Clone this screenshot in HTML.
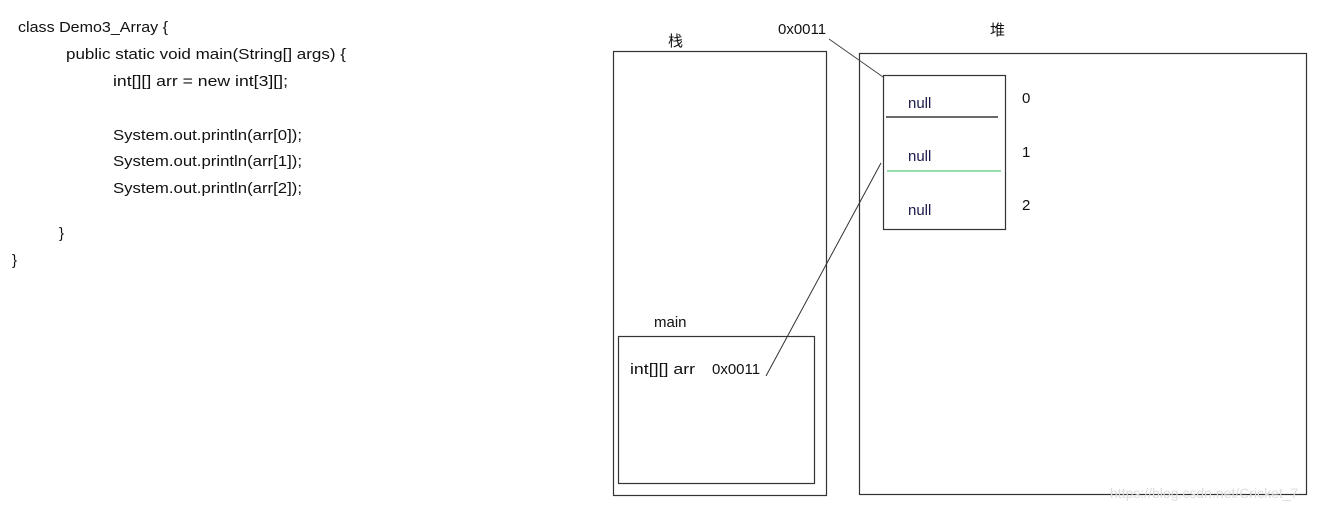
<!DOCTYPE html>
<html><head><meta charset="utf-8"><style>
html,body{margin:0;padding:0;background:#fff;}
svg{display:block;}
text{font-family:"Liberation Sans","Noto Sans CJK SC",sans-serif;font-size:15px;fill:#111;}
</style></head><body>
<svg width="1331" height="511" viewBox="0 0 1331 511">
<text x="18" y="32" textLength="150" lengthAdjust="spacingAndGlyphs">class Demo3_Array {</text>
<text x="66" y="59" textLength="280" lengthAdjust="spacingAndGlyphs">public static void main(String[] args) {</text>
<text x="113" y="86" textLength="175" lengthAdjust="spacingAndGlyphs">int[][] arr = new int[3][];</text>
<text x="113" y="140" textLength="189" lengthAdjust="spacingAndGlyphs">System.out.println(arr[0]);</text>
<text x="113" y="166" textLength="189" lengthAdjust="spacingAndGlyphs">System.out.println(arr[1]);</text>
<text x="113" y="193" textLength="189" lengthAdjust="spacingAndGlyphs">System.out.println(arr[2]);</text>
<text x="59" y="238">}</text>
<text x="12" y="265">}</text>

<rect x="613.5" y="51.5" width="213" height="444" fill="none" stroke="#333" stroke-width="1.2"/>
<text x="668" y="46">栈</text>
<rect x="859.5" y="53.5" width="447" height="441" fill="none" stroke="#333" stroke-width="1.2"/>
<text x="990" y="35">堆</text>
<text x="778" y="34">0x0011</text>
<line x1="829" y1="39" x2="883" y2="77" stroke="#444" stroke-width="1"/>

<rect x="883.5" y="75.5" width="122" height="154" fill="none" stroke="#333" stroke-width="1.2"/>
<line x1="886" y1="117" x2="998" y2="117" stroke="#111" stroke-width="1.2"/>
<line x1="887" y1="171" x2="1001" y2="171" stroke="#5ac878" stroke-width="1.3"/>
<text x="908" y="108" style="fill:#1a1a4a">null</text>
<text x="908" y="161" style="fill:#1a1a4a">null</text>
<text x="908" y="215" style="fill:#1a1a4a">null</text>
<text x="1022" y="103">0</text>
<text x="1022" y="157">1</text>
<text x="1022" y="210">2</text>

<text x="654" y="327">main</text>
<rect x="618.5" y="336.5" width="196" height="147" fill="none" stroke="#333" stroke-width="1.2"/>
<text x="630" y="374" textLength="65" lengthAdjust="spacingAndGlyphs">int[][] arr</text>
<text x="712" y="374">0x0011</text>
<line x1="766" y1="376" x2="881" y2="163" stroke="#333" stroke-width="1"/>
<text x="1110" y="498" style="fill:#ddd;font-size:14px">https://blog.csdn.net/Cricket_7</text>
</svg>
</body></html>
